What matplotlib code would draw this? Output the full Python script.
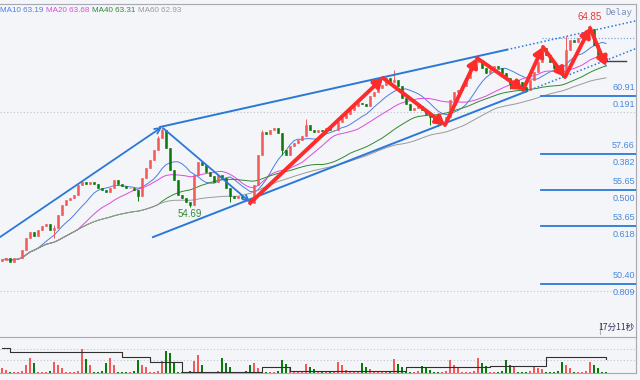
import numpy as np
import pandas as pd
import matplotlib
matplotlib.use('Agg')
import matplotlib.pyplot as plt

# #/#/# data #/#/#

# candle closes, one per bar (left to right)
closes = [51.75, 51.86, 51.64, 51.86, 51.86, 52.31, 52.98, 53.31,
          53.09, 53.42, 53.65, 53.76, 53.42, 53.54, 54.26, 54.82,
          55.10, 55.21, 55.38, 55.94, 56.11, 55.99, 56.11, 55.99,
          55.77, 55.66, 55.55, 55.77, 56.22, 55.99, 55.88, 55.77,
          55.77, 55.66, 55.32, 56.33, 56.89, 57.33, 57.89, 58.56,
          59.01, 58.00, 56.78, 56.22, 55.38, 55.21, 54.99, 54.82,
          56.50, 57.22, 57.05, 56.66, 56.44, 56.11, 56.50, 56.33,
          55.77, 55.32, 55.21, 55.32, 55.21, 55.10, 54.93, 55.94,
          57.61, 58.90, 58.79, 59.01, 59.12, 58.84, 57.89, 57.61,
          58.12, 58.28, 58.45, 58.68, 59.29, 59.01, 58.90, 59.01,
          58.95, 59.12, 59.01, 59.01, 59.46, 59.68, 59.90, 60.13,
          60.35, 60.52, 60.46, 60.35, 60.91, 61.13, 61.36, 61.52,
          61.92, 61.69, 61.80, 61.47, 60.80, 60.46, 60.13, 60.24,
          60.35, 60.13, 59.90, 59.74, 59.57, 59.40, 59.46, 59.74,
          60.69, 61.13, 61.25, 61.47, 61.92, 62.59, 62.81, 62.92,
          62.47, 62.20, 62.36, 62.59, 62.47, 62.20, 61.92, 61.58,
          61.80, 61.69, 61.41, 61.25, 61.80, 62.25, 62.81, 63.59,
          63.20, 62.81, 62.47, 62.25, 62.08, 63.48, 64.04, 63.93,
          64.15, 64.26, 64.60, 64.65, 63.76, 63.20, 63.03, 62.87]
first_open = 51.70

# the wicks that stick out clearly
high_wicks = {13: 53.70, 39: 58.70, 40: 59.15, 65: 59.00, 76: 59.60, 96: 62.00,
              98: 62.35, 117: 62.70, 119: 63.00, 135: 63.75, 141: 64.25,
              147: 64.85}
low_wicks = {13: 53.00, 34: 55.05, 47: 54.69, 57: 55.00, 62: 54.85, 70: 57.60,
             107: 59.30, 109: 59.25, 127: 61.30, 131: 61.15, 140: 61.95}

volume = [5, 3, 1, 1, 1, 2, 8, 15,
          10, 1, 1, 1, 2, 11, 8, 5,
          1, 1, 1, 2, 24, 14, 8, 1,
          1, 2, 10, 15, 8, 1, 1, 1,
          1, 2, 13, 8, 6, 1, 1, 2,
          12, 22, 20, 10, 1, 1, 1, 2,
          12, 18, 8, 1, 1, 1, 2, 15,
          10, 6, 1, 1, 1, 2, 8, 10,
          5, 1, 1, 1, 1, 2, 13, 9,
          6, 1, 1, 2, 9, 6, 4, 1,
          1, 1, 1, 2, 11, 8, 3, 1,
          1, 2, 10, 6, 4, 1, 1, 1,
          1, 2, 14, 9, 6, 1, 1, 1,
          2, 7, 5, 3, 1, 1, 1, 2,
          13, 8, 5, 1, 1, 1, 2, 15,
          10, 7, 1, 1, 1, 2, 13, 8,
          6, 1, 1, 1, 2, 7, 5, 4,
          1, 1, 1, 2, 11, 8, 5, 1,
          1, 1, 2, 11, 8, 5, 1, 1]

# the black step line in the volume pane
step_idx = [0, 2, 30, 37, 45, 65, 72, 101, 122, 136, 151]
step_val = [25, 21, 16, 11, 1, 6, 2, 6, 7, 16, 14]

ma_windows = [10, 20, 40, 60]
ma_labels = ['MA10 63.19', 'MA20 63.68', 'MA40 63.31', 'MA60 62.93']
ma_colors = ['#4c7ee0', '#e048e0', '#2f8a2f', '#9a9a9a']

# drawn lines (bar index, price)
left_up_x, left_up_p = [-0.5, 40], [53.03, 59.18]
down_x, down_p = [40.25, 62], [59.12, 54.99]
upper_x, upper_p = [39.5, 126.25, 159.5], [59.18, 63.50, 65.16]
lower_x, lower_p = [37.75, 131.25, 159.5], [53.03, 61.18, 63.65]

# red zigzag pivots
zig_x = [62, 95.25, 110.75, 118.75, 130.25, 135.25, 140.75, 147, 151]
zig_p = [54.93, 61.92, 59.29, 63.03, 61.25, 63.65, 61.97, 64.71, 62.59]

# fibonacci levels
fib_ratio = ['0.191', '0.382', '0.500', '0.618', '0.809']
fib_price = [60.91, 57.66, 55.65, 53.65, 50.40]
fib_zero = 64.17

# #/#/# plotting #/#/#

bg = '#f4f5f9'
up_col = '#f25a5a'
dn_col = '#0b7a0b'
line_blue = '#2a78d8'
fib_blue = '#4a88dc'

fig = plt.figure(figsize=(6.4, 3.8), dpi=100, facecolor=bg)
W, H = 640.0, 380.0
ax = fig.add_axes([0, 1 - 337 / H, 636 / W, 333 / H], facecolor=bg)
axv = fig.add_axes([0, 1 - 373 / H, 636 / W, 36 / H], facecolor=bg)

n = len(closes)
idx = np.arange(n)
c = np.array(closes)
o = np.concatenate([[first_open], c[:-1]])
hi = np.maximum(o, c)
lo = np.minimum(o, c)
for k, v in high_wicks.items():
    hi[k] = max(hi[k], v)
for k, v in low_wicks.items():
    lo[k] = min(lo[k], v)
up = c >= o
cols = np.where(up, up_col, dn_col)

# moving averages
for w, col in zip(ma_windows, ma_colors):
    ma = pd.Series(c).rolling(w, min_periods=1).mean()
    ax.plot(idx, ma, color=col, lw=0.7, zorder=2)

# candles
ax.vlines(idx, lo, hi, colors=cols, lw=0.7, zorder=3)
body = np.maximum(np.abs(c - o), 0.03)
ax.bar(idx, body, bottom=np.minimum(o, c), width=0.65, color=cols,
       edgecolor=cols, lw=0.4, zorder=3)

# grid lines at 50 and 60
for g in [50, 60]:
    ax.axhline(g, color='#c4c4cc', lw=0.8, ls=(0, (1, 2)), zorder=1)

# channel lines
ax.annotate('', xy=(left_up_x[1], left_up_p[1]), xytext=(left_up_x[0], left_up_p[0]),
            arrowprops=dict(arrowstyle='->', color=line_blue, lw=1.3, shrinkA=0, shrinkB=0),
            zorder=5)
ax.annotate('', xy=(down_x[1], down_p[1]), xytext=(down_x[0], down_p[0]),
            arrowprops=dict(arrowstyle='->', color=line_blue, lw=1.3, shrinkA=0, shrinkB=0),
            zorder=5)
ax.plot(upper_x[:2], upper_p[:2], color=line_blue, lw=1.4, zorder=5)
ax.plot(upper_x[1:], upper_p[1:], color=line_blue, lw=1.1, ls=(0, (1, 1.5)), zorder=5)
ax.plot(lower_x[:2], lower_p[:2], color=line_blue, lw=1.4, zorder=5)
ax.plot(lower_x[1:], lower_p[1:], color=line_blue, lw=1.1, ls=(0, (1, 1.5)), zorder=5)

# thin blue zigzag under the red one
ax.plot(zig_x, zig_p, color='#3d8ae6', lw=1.0, zorder=5)

# red zigzag arrows
for k in range(len(zig_x) - 1):
    ax.annotate('', xy=(zig_x[k + 1], zig_p[k + 1]), xytext=(zig_x[k], zig_p[k]),
                arrowprops=dict(arrowstyle='-|>,head_length=0.5,head_width=0.3',
                                color='#ff2b2b', lw=2.8, shrinkA=0, shrinkB=0,
                                mutation_scale=10),
                zorder=6)

# fibonacci levels
for r, p in zip(fib_ratio, fib_price):
    ax.plot([134.75, 158.5], [p, p], color=line_blue, lw=1.3, zorder=4)
    ax.text(158.2, p + 0.22, f'{p:.2f}', color=fib_blue, fontsize=6.5,
            family='Liberation Sans', ha='right', va='bottom')
    ax.text(158.2, p - 0.2, r, color=fib_blue, fontsize=6.5,
            family='Liberation Sans', ha='right', va='top')
ax.plot([135, 158.5], [fib_zero, fib_zero], color='#7fa8e0', lw=0.9,
        ls=(0, (1, 1.5)), zorder=4)

# last price marker
ax.plot([149.5, 156], [c[-1], c[-1]], color='#404050', lw=1.0, zorder=4)

# high / low labels
ax.text(147, 64.85 + 0.2, '64.85', color='#e03a3a', fontsize=7,
        family='Liberation Sans', ha='center', va='bottom')
ax.text(47, 54.69 - 0.1, '54.69', color='#2f8a2f', fontsize=7,
        family='Liberation Sans', ha='center', va='top')

ax.text(157.5, 65.85, 'Delay', color='#7f90c0', fontsize=6.5,
        family='DejaVu Sans Mono', ha='right', va='top')

ax.set_xlim(-0.5, 158.5)
ax.set_ylim(47.45, 66.05)
ax.set_xticks([])
ax.set_yticks([])
for s in ['left', 'bottom']:
    ax.spines[s].set_visible(False)
for s in ['top', 'right']:
    ax.spines[s].set_color('#a8a8b0')
    ax.spines[s].set_linewidth(0.8)

# timer label near the bottom right
ax.plot([149.5, 149.5], [47.6, 48.2], color='#b0b0b8', lw=0.8)
ax.text(158.2, 47.72, '17分11秒', color='#33335a', fontsize=6.2,
        family=['Noto Sans CJK SC', 'DejaVu Sans'], ha='right', va='bottom')

# volume pane
axv.bar(idx, volume, width=0.65, color=cols, lw=0, zorder=3)
axv.step(step_idx, step_val, where='post', color='#303030', lw=0.8, zorder=4)
for g in [13, 24]:
    axv.axhline(g, color='#c4c4cc', lw=0.8, ls=(0, (1, 2)), zorder=1)
axv.set_xlim(-0.5, 158.5)
axv.set_ylim(0, 36)
axv.set_xticks([])
axv.set_yticks([])
axv.spines['left'].set_visible(False)
for s in ['top', 'right', 'bottom']:
    axv.spines[s].set_color('#a8a8b0')
    axv.spines[s].set_linewidth(0.8)

# moving average legend along the top
legend_x = [0, 46, 92, 138]
for lbl, col, lx in zip(ma_labels, ma_colors, legend_x):
    fig.text(lx / W, 1 - 10 / H, lbl, color=col, fontsize=5.8,
             family='Liberation Sans', ha='left', va='center')

fig.savefig('out.png', dpi=100, facecolor=bg)
